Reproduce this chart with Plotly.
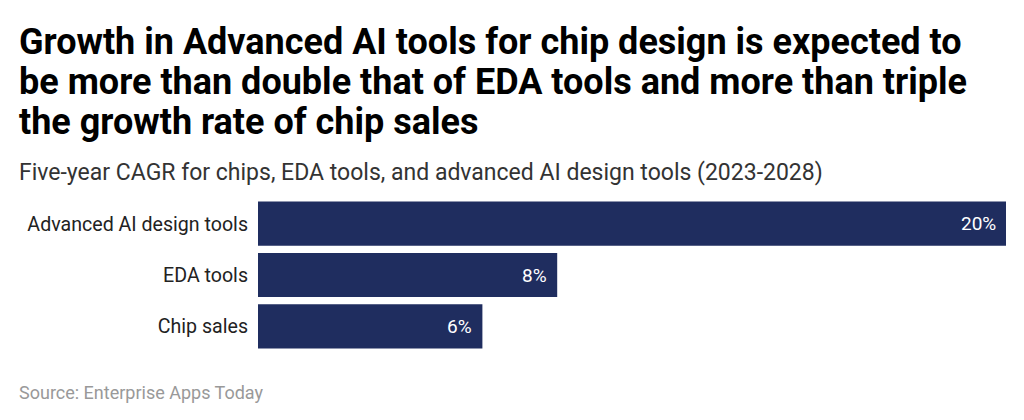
import plotly.graph_objects as go

categories = ["Advanced AI design tools", "EDA tools", "Chip sales"]
values = [20, 8, 6]
value_labels = ["20%", "8%", "6%"]

title_lines = ["Growth in Advanced AI tools for chip design is expected to",
               "be more than double that of EDA tools and more than triple",
               "the growth rate of chip sales"]
subtitle_text = "Five-year CAGR for chips, EDA tools, and advanced AI design tools (2023-2028)"
source_text = "Source: Enterprise Apps Today"

W, H = 1024, 420
ml, mr, mt, mb = 258, 18, 198, 68
pw, ph = W - ml - mr, H - mt - mb

def px_x(x):
    return (x - ml) / pw

def px_y(y):
    return (H - mb - y) / ph

fig = go.Figure(go.Bar(
    x=values, y=categories, orientation="h",
    marker=dict(color="#1f2d5f", line=dict(width=0)),
    hoverinfo="skip",
))

annotations = []
for i, line in enumerate(title_lines):
    annotations.append(dict(
        text=line, xref="paper", yref="paper", x=px_x(17), y=px_y(42 + 40 * i),
        xanchor="left", yanchor="middle", showarrow=False,
        font=dict(family="Roboto", size=36, color="#000000", weight="bold")))
annotations.append(dict(
    text=subtitle_text, xref="paper", yref="paper", x=px_x(17), y=px_y(172),
    xanchor="left", yanchor="middle", showarrow=False,
    font=dict(family="Roboto", size=23, color="#333333")))
annotations.append(dict(
    text=source_text, xref="paper", yref="paper", x=px_x(17), y=px_y(392),
    xanchor="left", yanchor="middle", showarrow=False,
    font=dict(family="Roboto", size=18, color="#999999")))
for cat, val, lab in zip(categories, values, value_labels):
    annotations.append(dict(
        text=lab, x=val, y=cat, xref="x", yref="y", xanchor="right", yanchor="middle",
        xshift=-8, showarrow=False,
        font=dict(family="Roboto", size=19, color="#ffffff")))

fig.update_layout(
    width=W, height=H,
    margin=dict(l=ml, r=mr, t=mt, b=mb, pad=0),
    paper_bgcolor="white", plot_bgcolor="white",
    showlegend=False, bargap=0.14,
    font=dict(family="Roboto"),
    xaxis=dict(range=[0, 20], visible=False, fixedrange=True),
    yaxis=dict(autorange="reversed", showgrid=False, showline=False, ticks="",
               ticklabelstandoff=9,
               tickfont=dict(family="Roboto", size=19.6, color="#222222")),
    annotations=annotations,
)

fig.write_html("out.html")
